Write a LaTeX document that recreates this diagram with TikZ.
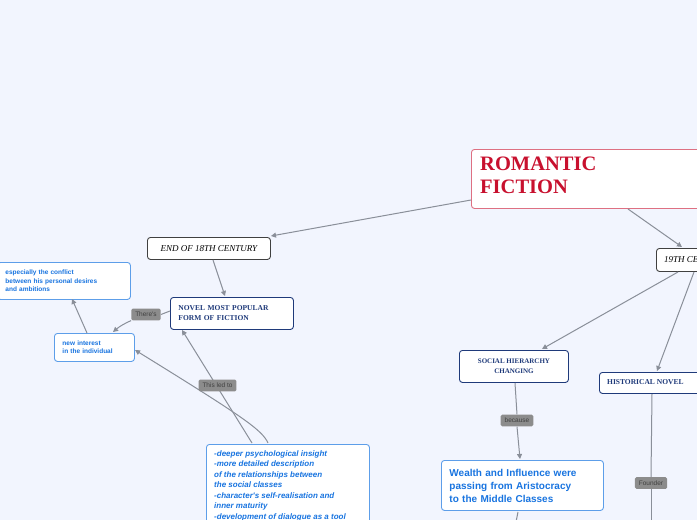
\documentclass[tikz,border=0pt]{standalone}
\usepackage{fontspec}
\setmainfont{Liberation Serif}
\newfontfamily\sansf{Liberation Sans}
\usetikzlibrary{arrows.meta}
\definecolor{bg}{HTML}{F2F5FE}
\definecolor{rom}{HTML}{C8102E}
\definecolor{navy}{HTML}{1F3A7A}
\definecolor{lblue}{HTML}{1874E0}
\definecolor{edge}{HTML}{8A8F99}
\definecolor{labfill}{HTML}{8C8C8C}
\begin{document}
\begin{tikzpicture}[x=1pt,y=-1pt,
  box/.style={draw, rounded corners=3pt, fill=white, line width=0.9pt, inner sep=0pt, anchor=north west},
  lbox/.style={box, align=left, inner xsep=8pt, inner ysep=0pt},
  lab/.style={fill=labfill, rounded corners=1.5pt, text=black!75, font=\sansf\fontsize{6.5}{7}\selectfont, inner xsep=4pt, inner ysep=3.5pt},
  conn/.style={draw=edge, line width=1pt, -{Triangle[length=5pt,width=5pt]}},
  plain/.style={draw=edge, line width=1pt}]
\useasboundingbox (0,0) rectangle (697,520);
\fill[bg] (0,0) rectangle (697,520);
\clip (0,0) rectangle (697,520);
% nodes
\node[box, draw=rom!60, minimum width=240pt, minimum height=59pt] (rom) at (471,149) {};
\node[anchor=north west, align=left, text=rom, font=\bfseries\fontsize{20.5}{22.5}\selectfont, inner sep=0pt] at (480,157) {ROMANTIC\\FICTION};
\node[box, draw=black!75, minimum width=60pt, minimum height=23pt] (c19) at (656,248) {};
\node[anchor=west, font=\itshape\fontsize{9}{10}\selectfont, inner sep=0pt] at (664,259.5) {19TH CENTURY};
\node[box, draw=black!75, minimum width=123pt, minimum height=22pt, font=\itshape\fontsize{9}{10}\selectfont] (c18) at (147,237) {END OF 18TH CENTURY};
\node[lbox, draw=navy, text width=107pt, minimum height=32pt, text=navy, font=\bfseries\fontsize{7.5}{10}\selectfont] (novel) at (170,297) {NOVEL MOST POPULAR\\FORM OF FICTION};
\node[lbox, draw=lblue!70, text width=117pt, minimum height=37pt, text=lblue, font=\sansf\bfseries\fontsize{6.5}{8.5}\selectfont] (esp) at (-3,262) {especially the conflict\\between his personal desires\\and ambitions};
\node[lbox, draw=lblue!70, text width=64pt, minimum height=28pt, text=lblue, font=\sansf\bfseries\fontsize{6.5}{8}\selectfont] (ind) at (54,333) {new interest\\in the individual};
\node[box, draw=lblue!70, minimum width=163pt, minimum height=90pt] (deep) at (206,444) {};
\node[anchor=north west, text=lblue, align=left, font=\sansf\bfseries\itshape\fontsize{8}{10.5}\selectfont, inner sep=0pt] at (214,450) {-deeper psychological insight\\-more detailed description\\of the relationships between\\the social classes\\-character's self-realisation and\\inner maturity\\-development of dialogue as a tool};
\node[box, draw=navy, minimum width=109pt, minimum height=32pt, text=navy, align=center, font=\bfseries\fontsize{7}{9.5}\selectfont] (soc) at (459,350) {SOCIAL HIERARCHY\\CHANGING};
\node[lbox, draw=lblue!70, text width=146pt, minimum height=50pt, text=lblue, font=\sansf\bfseries\fontsize{10}{13}\selectfont] (wea) at (441,460) {Wealth and Influence were\\passing from Aristocracy\\to the Middle Classes};
\node[box, draw=navy, minimum width=110pt, minimum height=21pt] (his) at (599,372) {};
\node[anchor=west, text=navy, font=\bfseries\fontsize{7.5}{9}\selectfont, inner sep=0pt] at (607,382.5) {HISTORICAL NOVEL};
% labels
\node[lab] (there) at (146,314.5) {There's};
\node[lab] (bec) at (517,420.5) {because};
\node[lab] (fou) at (651,483) {Founder};
\coordinate (wend) at (516,522);
\coordinate (fend) at (651,522);
% edges
\draw[conn] (471,200) -- (271,236);
\draw[conn] (628,209) -- (682,247);
\draw[conn] (213,260) -- (225,296);
\draw[plain] (novel.west |- 0,311) -- (there.east);
\draw[conn] (there.south west) to[bend right=8] (113,332);
\draw[conn] (87,333) -- (72,299);
\draw[conn] (252,443) -- (182,330);
\draw[conn] (268,443) .. controls (262,430) and (245,418) .. (135,350);
\draw[conn] (678,272) -- (542,349);
\draw[conn] (694,272) -- (657,371);
\draw[plain] (515,383) -- (bec.north);
\draw[conn] (bec.south) -- (520,459);
\draw[plain] (518,512) -- (wend);
\draw[plain] (652,394) -- (fou.north);
\draw[plain] (fou.south) -- (fend);
\node[lab] (led) at (217.5,385.5) {This led to};
\end{tikzpicture}
\end{document}
